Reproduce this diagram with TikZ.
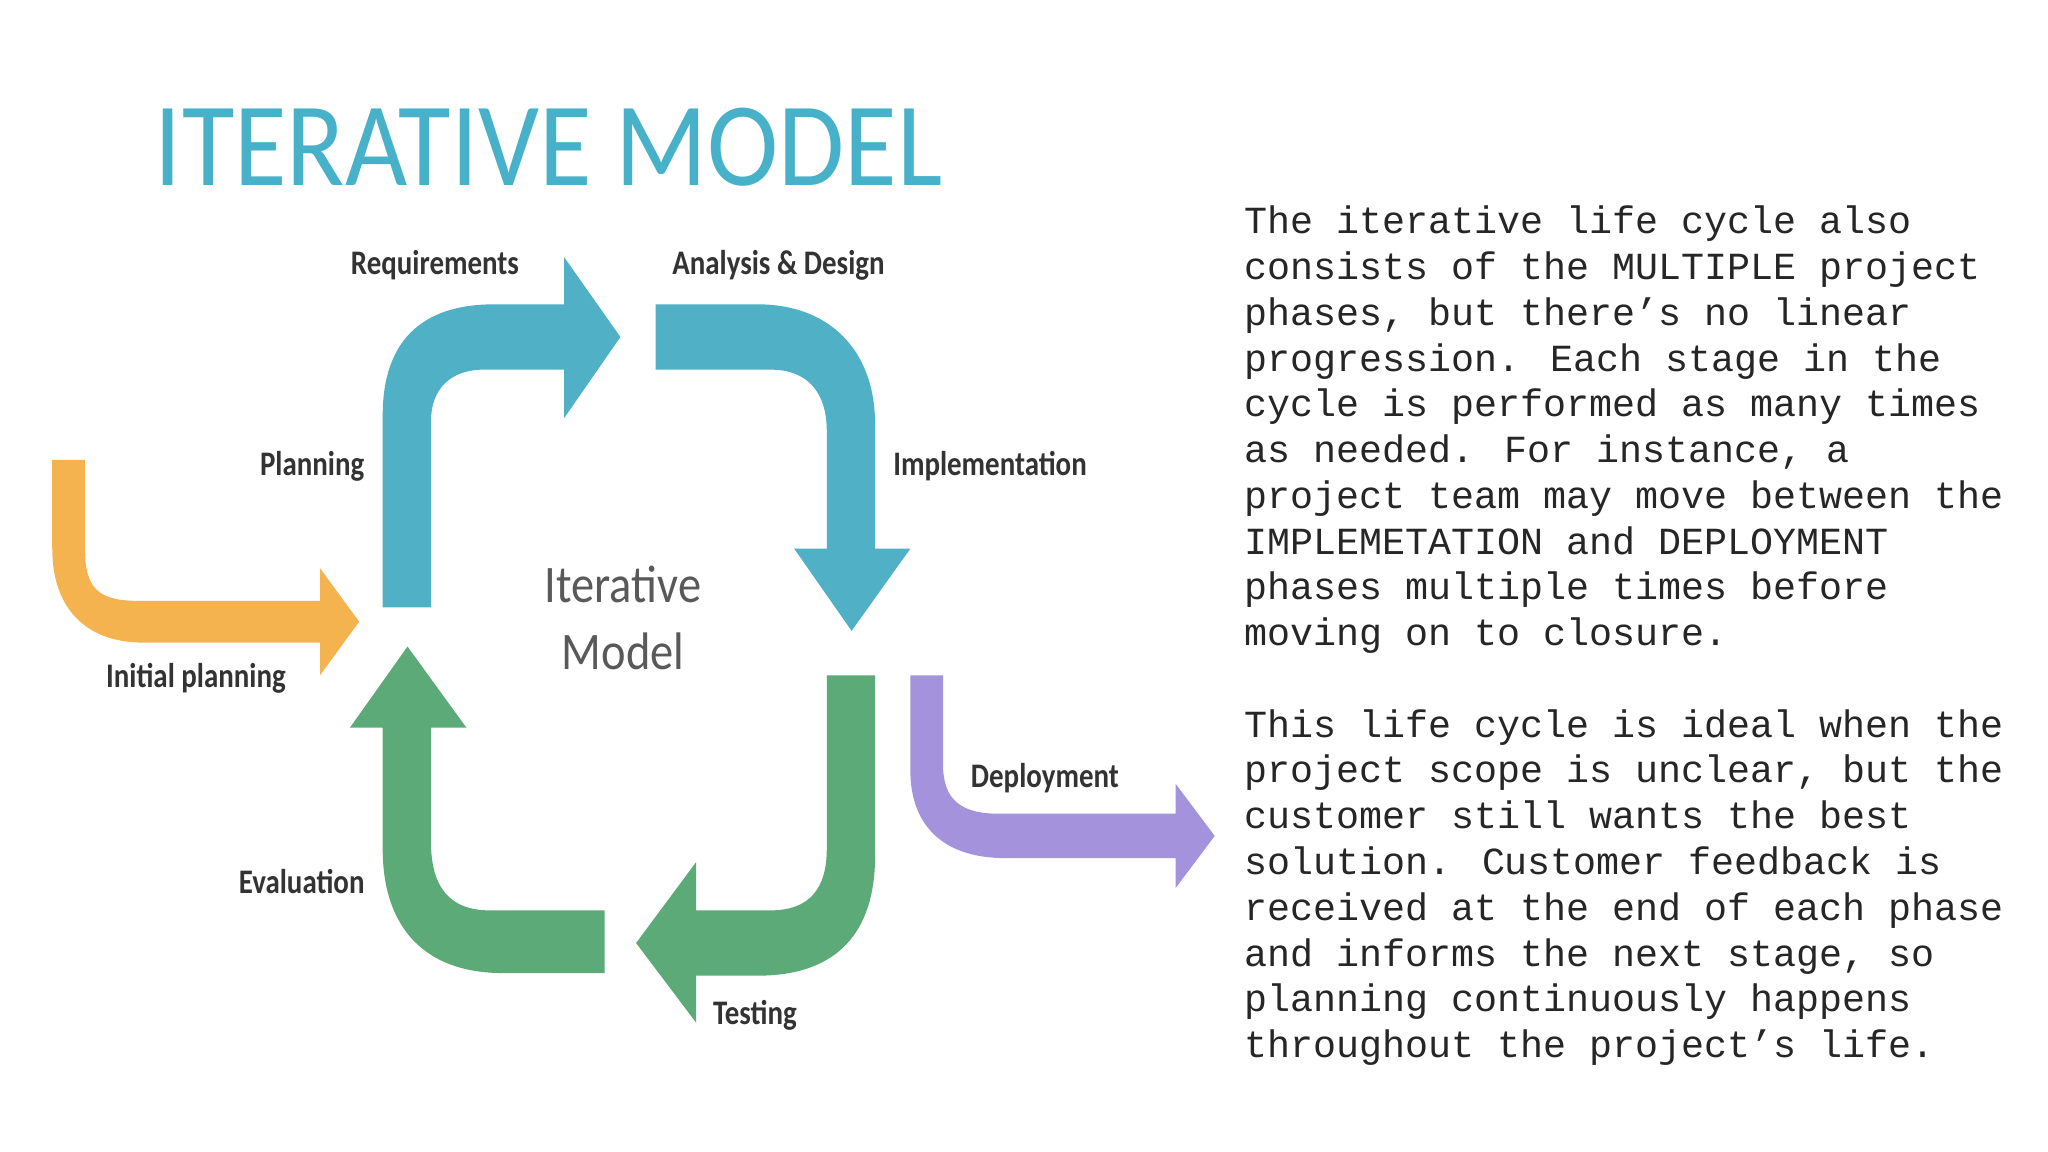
\documentclass[tikz,border=0pt]{standalone}
\usepackage{fontspec}
\setmainfont{Carlito}
\newfontfamily\monof{Liberation Mono}
\definecolor{cblue}{HTML}{4FB0C6}
\definecolor{cgreen}{HTML}{5BAA78}
\definecolor{corange}{HTML}{F5B350}
\definecolor{cpurple}{HTML}{A592DD}
\definecolor{ctitle}{HTML}{46B1C9}
\definecolor{clab}{HTML}{333333}
\begin{document}
\begin{tikzpicture}[x=0.1mm,y=-0.1mm,
  lab/.style={font=\fontsize{7.5}{9}\selectfont\bfseries, text=clab, inner sep=0pt, xscale=0.84}]
\useasboundingbox[fill=white] (0,0) rectangle (1568,882);
\node[anchor=west, text=ctitle, font=\fontsize{26}{30}\selectfont, inner sep=0pt, xscale=0.9] (title) at (118,113) {ITERATIVE MODEL};
% arrows
\fill[cblue] (293,465)--(293,318) .. controls (293,262) and (322,233) .. (378,233) -- (432,233) -- (432,197) -- (475,258) -- (432,320) -- (432,283) -- (370,283) .. controls (345,283) and (330,298) .. (330,322) -- (330,465) -- cycle;
\fill[cblue] (502,233)--(580,233) .. controls (635,233) and (670,268) .. (670,325) -- (670,420) -- (697,420) -- (652,483) -- (608,420) -- (633,420) -- (633,330) .. controls (633,300) and (618,283) .. (590,283) -- (502,283) -- cycle;
\fill[cgreen] (633,517)--(670,517)--(670,655) .. controls (670,715) and (640,747) .. (580,747) -- (533,747) -- (533,783) -- (487,722) -- (533,660) -- (533,697) -- (590,697) .. controls (620,697) and (633,680) .. (633,650) -- cycle;
\fill[cgreen] (463,697)--(463,745)--(385,745) .. controls (325,745) and (293,710) .. (293,650) -- (293,557) -- (268,557) -- (312,495) -- (357,557) -- (330,557) -- (330,645) .. controls (330,680) and (345,697) .. (375,697) -- cycle;
\fill[corange] (40,352)--(65,352)--(65,420) .. controls (65,450) and (75,460) .. (105,460) -- (245,460) -- (245,435) -- (275,476) -- (245,517) -- (245,492) -- (110,492) .. controls (65,492) and (40,465) .. (40,420) -- cycle;
\fill[cpurple] (697,517)--(722,517)--(722,585) .. controls (722,612) and (735,623) .. (765,623) -- (900,623) -- (900,600) -- (930,640) -- (900,680) -- (900,657) -- (770,657) .. controls (720,657) and (697,630) .. (697,590) -- cycle;
% labels
\node[lab] (req) at (333,203) {Requirements};
\node[lab] (ana) at (596,203) {Analysis \& Design};
\node[lab] (pla) at (239,357) {Planning};
\node[lab] (imp) at (758,357) {Implementation};
\node[lab] (ini) at (150,519) {Initial planning};
\node[lab] (dep) at (800,596) {Deployment};
\node[lab] (eva) at (231,675) {Evaluation};
\node[lab] (tes) at (578,777) {Testing};
\node[text=black!65, font=\fontsize{11.5}{12.5}\selectfont, align=center, inner sep=0pt, xscale=0.88] (center) at (477,473) {Iterative\\[2pt]Model};
% text
\node[anchor=north west, inner sep=0pt, align=left, font=\monof\fontsize{8.35}{9.97}\selectfont, text=black!85] (body) at (952,157) {%
The iterative life cycle also\\
consists of the MULTIPLE project\\
phases, but there’s no linear\\
progression. Each stage in the\\
cycle is performed as many times\\
as needed. For instance, a\\
project team may move between the\\
IMPLEMETATION and DEPLOYMENT\\
phases multiple times before\\
moving on to closure.\\[9.97pt]
This life cycle is ideal when the\\
project scope is unclear, but the\\
customer still wants the best\\
solution. Customer feedback is\\
received at the end of each phase\\
and informs the next stage, so\\
planning continuously happens\\
throughout the project’s life.};
\end{tikzpicture}
\end{document}
